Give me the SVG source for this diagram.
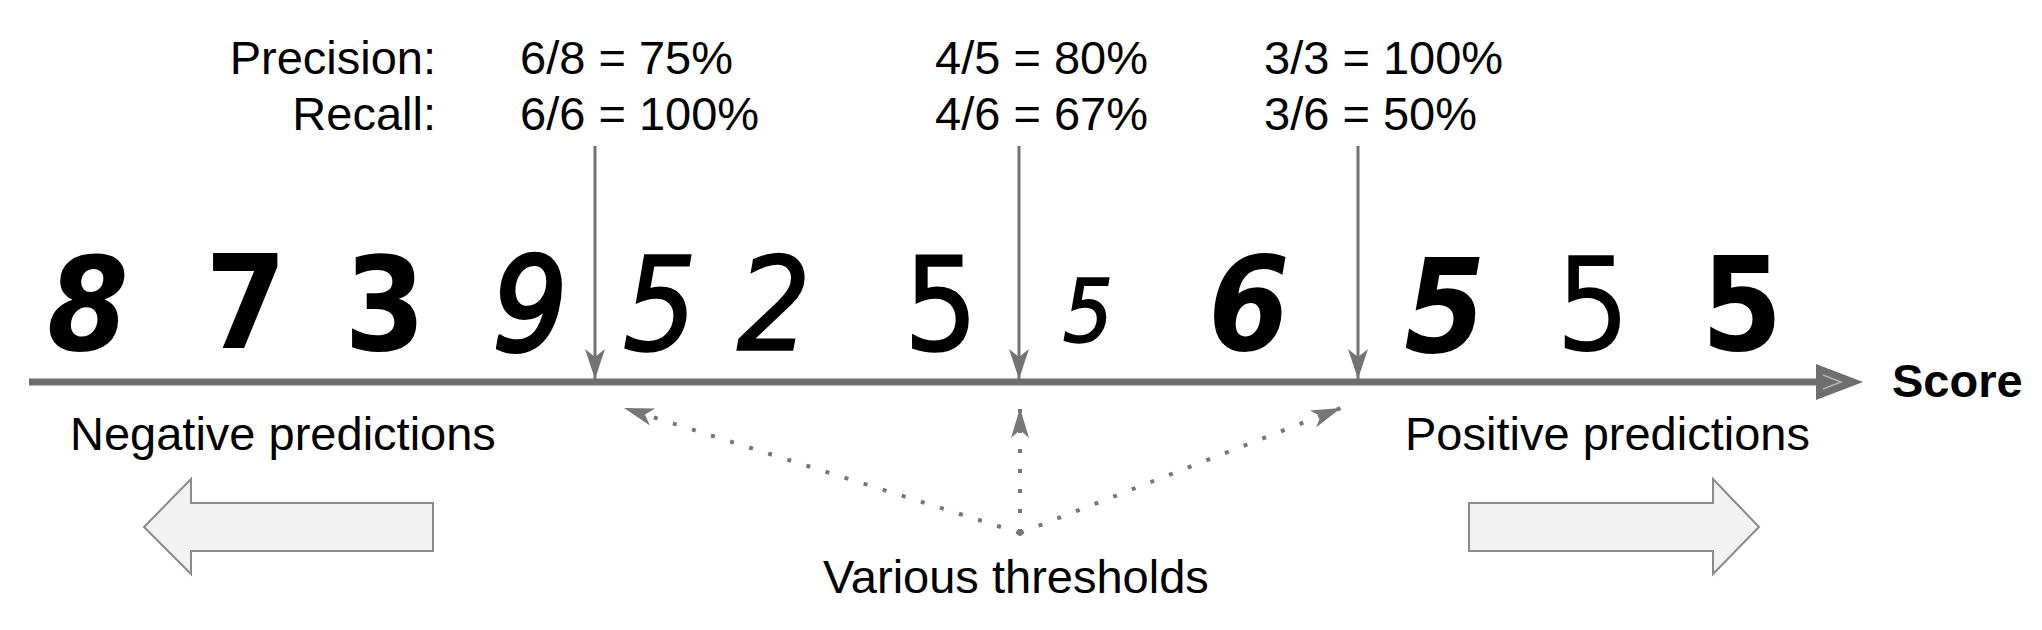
<svg xmlns="http://www.w3.org/2000/svg" width="2042" height="630" viewBox="0 0 2042 630">
<style>
.t{font-family:"Liberation Sans",Arial,sans-serif;font-size:47px;fill:#000}
.b{font-weight:bold}
.e{text-anchor:end}
.d{font-family:"DejaVu Sans Condensed","DejaVu Sans","Liberation Sans",sans-serif;fill:#000;text-anchor:middle;font-size:130px}
.k{font-weight:bold}
.m{font-weight:normal;stroke:#000;stroke-width:4;stroke-linejoin:round}
.n{font-weight:normal;stroke:#000;stroke-width:1.5}
.l{font-weight:normal}
.i{font-style:italic}
.thr{stroke:#737373;stroke-width:3;fill:none}
.dot{stroke:#777;stroke-width:4;stroke-dasharray:4 16;fill:none}
.blk{fill:#f2f2f2;stroke:#8a8a8a;stroke-width:2}
.ax{stroke:#6e6e6e;stroke-width:7;fill:none}
</style>
<defs>
<marker id="ah" markerUnits="userSpaceOnUse" viewBox="-31 -11 32 22" refX="0" refY="0" markerWidth="32" markerHeight="22" orient="auto">
<path d="M0,0 L-30,-10 L-22,0 L-30,10 Z" fill="#737373"/>
</marker>
<marker id="dh" markerUnits="userSpaceOnUse" viewBox="-32 -10 33 20" refX="0" refY="0" markerWidth="33" markerHeight="20" orient="auto">
<path d="M0,0 L-30,-9 L-22,0 L-30,9 Z" fill="#777"/>
</marker>
</defs>
<rect width="2042" height="630" fill="#fff"/>

<g id="metrics">
<text class="t e" x="436" y="74">Precision:</text>
<text class="t e" x="436" y="130">Recall:</text>
<text class="t" x="520" y="74">6/8 = 75%</text>
<text class="t" x="520" y="130">6/6 = 100%</text>
<text class="t" x="935" y="74">4/5 = 80%</text>
<text class="t" x="935" y="130">4/6 = 67%</text>
<text class="t" x="1264" y="74">3/3 = 100%</text>
<text class="t" x="1264" y="130">3/6 = 50%</text>
</g>

<g id="digits">
<text class="d k i" x="88" y="350">8</text>
<text class="d k" x="246" y="348">7</text>
<text class="d k" x="385" y="350">3</text>
<text class="d m i" x="530" y="350">9</text>
<text class="d n i" x="660" y="350">5</text>
<text class="d n i" x="774" y="350">2</text>
<text class="d n" x="941" y="350">5</text>
<text class="d n i" x="1088" y="342" style="font-size:88px">5</text>
<text class="d k i" x="1249" y="350">6</text>
<text class="d k i" x="1445" y="352">5</text>
<text class="d l" x="1593" y="350">5</text>
<text class="d k" x="1742" y="350">5</text>
</g>

<g id="score-axis">
<line class="ax" x1="29" y1="382" x2="1818" y2="382"/>
<polygon points="1816,364 1863,382 1816,400" fill="#6e6e6e"/>
<polyline points="1823,375 1841,382 1823,389" fill="none" stroke="#b5b5b5" stroke-width="1.5"/>
<text class="t b" x="1892" y="397">Score</text>
</g>

<g id="connectors">
<line class="thr" x1="595" y1="146" x2="595" y2="379" marker-end="url(#ah)"/>
<line class="thr" x1="1019" y1="146" x2="1019" y2="379" marker-end="url(#ah)"/>
<line class="thr" x1="1358" y1="146" x2="1358" y2="379" marker-end="url(#ah)"/>
<line class="dot" x1="1020" y1="533" x2="1020" y2="408" marker-end="url(#dh)"/>
<line class="dot" x1="1020" y1="533" x2="1341" y2="408" marker-end="url(#dh)"/>
<line class="dot" x1="1020" y1="533" x2="624" y2="408" marker-end="url(#dh)"/>
</g>

<g id="negative">
<text class="t" x="70" y="450">Negative predictions</text>
<polygon class="blk" points="144,527 191,479 191,503 433,503 433,551 191,551 191,574"/>
</g>

<g id="positive">
<text class="t" x="1405" y="450">Positive predictions</text>
<polygon class="blk" points="1469,503 1713,503 1713,479 1759,527 1713,574 1713,551 1469,551"/>
</g>

<g id="thresholds">
<circle cx="1020" cy="533" r="3" fill="#777"/>
<text class="t" x="823" y="593">Various thresholds</text>
</g>
</svg>
